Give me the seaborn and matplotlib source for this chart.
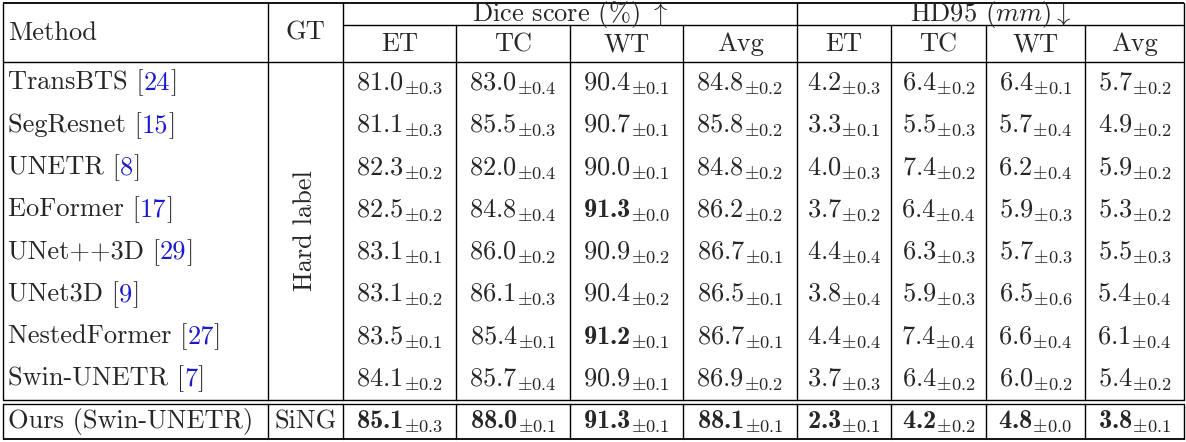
import matplotlib
matplotlib.use("Agg")
import matplotlib.pyplot as plt
import seaborn as sns

sns.set_theme(style="white")
plt.rcParams['mathtext.fontset'] = 'cm'
plt.rcParams['font.family'] = ['cmr10', 'DejaVu Serif']
plt.rcParams['axes.unicode_minus'] = False

methods = ["TransBTS", "SegResnet", "UNETR", "EoFormer", "UNet++3D", "UNet3D",
           "NestedFormer", "Swin-UNETR"]
refs = ["24", "15", "8", "17", "29", "9", "27", "7"]
cols = ["ET", "TC", "WT", "Avg", "ET", "TC", "WT", "Avg"]
means = [
    [81.0, 83.0, 90.4, 84.8, 4.2, 6.4, 6.4, 5.7],
    [81.1, 85.5, 90.7, 85.8, 3.3, 5.5, 5.7, 4.9],
    [82.3, 82.0, 90.0, 84.8, 4.0, 7.4, 6.2, 5.9],
    [82.5, 84.8, 91.3, 86.2, 3.7, 6.4, 5.9, 5.3],
    [83.1, 86.0, 90.9, 86.7, 4.4, 6.3, 5.7, 5.5],
    [83.1, 86.1, 90.4, 86.5, 3.8, 5.9, 6.5, 5.4],
    [83.5, 85.4, 91.2, 86.7, 4.4, 7.4, 6.6, 6.1],
    [84.1, 85.7, 90.9, 86.9, 3.7, 6.4, 6.0, 5.4],
]
stds = [
    [0.3, 0.4, 0.1, 0.2, 0.3, 0.2, 0.1, 0.2],
    [0.3, 0.3, 0.1, 0.2, 0.1, 0.3, 0.4, 0.2],
    [0.2, 0.4, 0.1, 0.2, 0.3, 0.2, 0.4, 0.2],
    [0.2, 0.4, 0.0, 0.2, 0.2, 0.4, 0.3, 0.2],
    [0.1, 0.2, 0.2, 0.1, 0.4, 0.3, 0.3, 0.3],
    [0.2, 0.3, 0.2, 0.1, 0.4, 0.3, 0.6, 0.4],
    [0.1, 0.1, 0.1, 0.1, 0.4, 0.4, 0.4, 0.4],
    [0.2, 0.4, 0.1, 0.2, 0.3, 0.2, 0.2, 0.2],
]
bold_cells = {(3, 2), (6, 2)}
ours_name = "Ours (Swin-UNETR)"
ours_gt = "SiNG"
ours_means = [85.1, 88.0, 91.3, 88.1, 2.3, 4.2, 4.8, 3.8]
ours_stds = [0.3, 0.1, 0.1, 0.1, 0.1, 0.2, 0.0, 0.1]

W, H = 1186, 442
fig = plt.figure(figsize=(W/100, H/100), dpi=100)
ax = fig.add_axes([0, 0, 1, 1])
ax.set_xlim(0, W); ax.set_ylim(H, 0); ax.axis("off")

vx = [3, 268, 343, 456, 570, 683, 797, 891, 986, 1085, 1184]
y_top, y_mid, y_hdr, y_sep, y_bot = 3, 25, 62, 400, 439
nrows = len(methods)
rh = (y_sep - y_hdr) / nrows
lw = 1.0
fs = 19

def hl(y, x0, x1, w=lw):
    ax.plot([x0, x1], [y, y], color="black", lw=w, solid_capstyle="butt")

hl(y_top, vx[0], vx[-1], 1.3)
hl(y_mid, vx[2], vx[-1])
hl(y_hdr, vx[0], vx[-1])
hl(y_sep, vx[0], vx[-1])
hl(y_sep + 3.5, vx[0], vx[-1])
hl(y_bot, vx[0], vx[-1], 1.3)
for i, x in enumerate(vx):
    if i in (0, 1, 2, 6, 10):
        segs = [(y_top, y_sep), (y_sep + 3.5, y_bot)]
    else:
        segs = [(y_mid, y_sep), (y_sep + 3.5, y_bot)]
    for a, b in segs:
        ax.plot([x, x], [a, b], color="black", lw=lw)

def cell(x, y, s, ha="center", bold=False, **kw):
    fam = ['cmb10', 'cmr10'] if bold else ['cmr10']
    return ax.text(x, y, s, fontsize=fs, va="center", ha=ha, family=fam, **kw)

cell(8, (y_top + y_hdr) / 2 + 1, "Method", ha="left")
cell((vx[1] + vx[2]) / 2, (y_top + y_hdr) / 2, "GT")
cell((vx[2] + vx[6]) / 2, (y_top + y_mid) / 2 + 1, r"Dice score (%) $\uparrow$")
cell((vx[6] + vx[10]) / 2, (y_top + y_mid) / 2 + 1, r"HD95 $(mm)\downarrow$")
for j, c in enumerate(cols):
    cell((vx[j + 2] + vx[j + 3]) / 2, (y_mid + y_hdr) / 2 + 1, c)

fig.canvas.draw()
r = fig.canvas.get_renderer()
inv = ax.transData.inverted()

def right_of(t):
    bb = t.get_window_extent(r)
    return inv.transform((bb.x1, bb.y0))[0]

for i, (m, rf) in enumerate(zip(methods, refs)):
    yc = y_hdr + rh * (i + 0.5)
    t = cell(8, yc, m + " [", ha="left")
    t2 = cell(right_of(t), yc, rf, ha="left", color="#1a1acc")
    cell(right_of(t2), yc, "]", ha="left")
    for j in range(8):
        s = r"%.1f$_{\pm %.1f}$" % (means[i][j], stds[i][j])
        cell((vx[j + 2] + vx[j + 3]) / 2, yc, s, bold=(i, j) in bold_cells)

cell((vx[1] + vx[2]) / 2, (y_hdr + y_sep) / 2, "Hard label", rotation=90)

yc = (y_sep + 3.5 + y_bot) / 2
cell(8, yc, ours_name, ha="left")
cell((vx[1] + vx[2]) / 2, yc, ours_gt)
for j in range(8):
    s = r"%.1f$_{\pm %.1f}$" % (ours_means[j], ours_stds[j])
    cell((vx[j + 2] + vx[j + 3]) / 2, yc, s, bold=True)

fig.savefig("out.png", dpi=100, facecolor="white")
